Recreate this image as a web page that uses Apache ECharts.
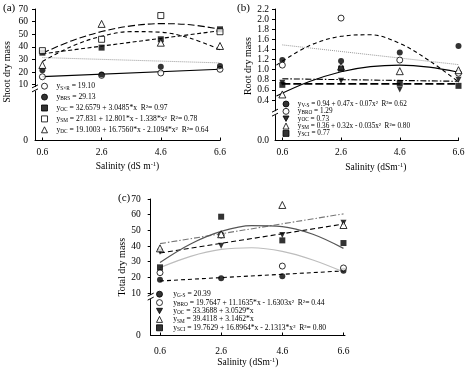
<!DOCTYPE html>
<html><head><meta charset="utf-8">
<script src="https://cdn.jsdelivr.net/npm/echarts@6/dist/echarts.min.js"></script>
<style>html,body{margin:0;padding:0;background:#fff}#c{width:474px;height:372px}</style>
</head><body><div id="c"></div>
<script>
// ---------- data ----------
const xTicks = [0.6, 2.6, 4.6, 6.6];
const xCurve = [0.6, 1.6, 2.6, 3.6, 4.6, 5.6, 6.6];
const xCurveB = [0.4, 1.5, 2.6, 3.6, 4.6, 5.6, 6.6];
const xLine = [0.6, 6.6];

// (a) Shoot dry mass
const aYTicks = [10, 20, 30, 40, 50, 60, 70];
const aOpenCircle = [16.3, 17.4, 19.3, 22.2];
const aFilledCircle = [21.4, 18.0, 24.3, 24.8];
const aFilledSquare = [35.4, 39.4, 46.0, 53.9];
const aOpenSquare = [37.0, 46.0, 64.8, 52.0];
const aTriangle = [25.6, 58.2, 43.3, 40.7];
const aSolidLine = [16.4, 22.2];
const aDottedLine = [31.5, 27.3];
const aOcLine = [34.5, 52.8];
const aSmCurve = [35.0, 44.9, 52.1, 56.6, 58.4, 57.5, 54.0];
const aDcCurve = [28.4, 40.5, 48.4, 52.1, 51.6, 46.8, 37.8];

// (b) Root dry mass
const bYTicks = [0.4, 0.6, 0.8, 1.0, 1.2, 1.4, 1.6, 1.8, 2.0, 2.2];
const bFilledCircle = [1.19, 1.17, 1.34, 1.47];
const bOpenCircle = [1.09, 2.02, 1.19, 0.93];
const bDownTri = [0.74, 0.78, 0.61, 0.80];
const bTriangle = [0.51, 1.06, 0.97, 0.99];
const bFilledSquare = [0.70, 1.02, 0.73, 0.68];
const bVsCurve = [1.09, 1.47, 1.66, 1.69, 1.52, 1.18, 0.76];
const bSmCurve = [0.48, 0.76, 0.96, 1.06, 1.09, 1.05, 0.95];
const bDottedLine = [1.49, 1.10];
const bDashDotLine = [0.82, 0.77];
const bLongDashLine = [0.72, 0.72];

// (c) Total dry mass
const cYTicks = [10, 20, 30, 40, 50, 60, 70];
const cFilledCircle = [18.5, 19.4, 20.7, 24.2];
const cOpenCircle = [23.0, 47.0, 27.2, 26.0];
const cDownTri = [36.4, 40.2, 47.0, 54.9];
const cTriangle = [38.5, 47.5, 66.2, 53.4];
const cFilledSquare = [26.4, 58.7, 43.6, 41.9];
const cGsLine = [17.7, 24.1];
const cBroCurve = [26.2, 33.4, 37.8, 38.9, 36.6, 31.1, 23.5];
const cOcLine = [35.5, 54.0];
const cSmLine = [41.5, 60.5];
const cSciCurve = [29.5, 41.3, 49.3, 53.0, 52.4, 47.5, 38.5];

// legend texts
const legendText = {
  a1: '{n|y}{s|S×R}{n| = 19.10}',
  a2: '{n|y}{s|BRS}{n| = 29.13}',
  a3: '{n|y}{s|OC}{n| = 32.6579 + 3.0485*x  R²= 0.97}',
  a4: '{n|y}{s|SM}{n| = 27.831 + 12.801*x - 1.338*x²  R²= 0.78}',
  a5: '{n|y}{s|DC}{n| = 19.1003 + 16.7560*x - 2.1094*x²  R²= 0.64}',
  b1: '{n|y}{s|V-S}{n| = 0.94 + 0.47x - 0.07x²  R²= 0.62}',
  b2: '{n|y}{s|BRO}{n| = 1.29}',
  b3: '{n|y}{s|OC}{n| = 0.73}',
  b4: '{n|y}{s|SM}{n| = 0.36 + 0.32x - 0.035x²  R²= 0.80}',
  b5: '{n|y}{s|SCI}{n| = 0.77}',
  c1: '{n|y}{s|G-S}{n| = 20.39}',
  c2: '{n|y}{s|BRO}{n| = 19.7647 + 11.1635*x - 1.6303x²  R²= 0.44}',
  c3: '{n|y}{s|OC}{n| = 33.3688 + 3.0529*x}',
  c4: '{n|y}{s|SM}{n| = 39.4118 + 3.1462*x}',
  c5: '{n|y}{s|SCI}{n| = 19.7629 + 16.8964*x - 2.1313*x²  R²= 0.80}'
};

// ---------- chart ----------
const FONT = 'Liberation Serif';
const chart = echarts.init(document.getElementById('c'));
const pts = (xs, ys) => xs.map((x, i) => [x, ys[i]]);
const OPEN = {color: '#fff', borderColor: '#000', borderWidth: 1};
const FILL = {color: '#000', borderColor: '#000', borderWidth: 0};
const DOWN = 'path://M0,0L10,0L5,9Z';

function scatter(name, gi, ys, symbol, style, size) {
  return {type: 'scatter', name, xAxisIndex: gi, yAxisIndex: gi, data: pts(xTicks, ys),
    symbol, symbolSize: size || 6, itemStyle: style, z: 5, silent: true};
}
function line(gi, xs, ys, color, type, width, smooth) {
  return {type: 'line', xAxisIndex: gi, yAxisIndex: gi, data: pts(xs, ys), symbol: 'none',
    smooth: smooth ? 0.35 : false, lineStyle: {color, type, width: width || 1}, z: 3, silent: true};
}

const gridsDef = [
  {left: 35, top: 9, width: 185, height: 131.5, xmin: 0.35, xmax: 6.6, ymin: -34.2, ymax: 70},
  {left: 275, top: 9, width: 183.5, height: 131.5, xmin: 0.35, xmax: 6.6, ymin: -0.401, ymax: 2.2},
  {left: 150.7, top: 199, width: 194.3, height: 136.5, xmin: 0.296, xmax: 6.65, ymin: -17.1, ymax: 70}
];
const yTickSets = [aYTicks, bYTicks, cYTicks];
const yDec = [0, 1, 0];
const xNames = ['{t|Salinity (dS m}{p|-1}{t|)}', '{t|Salinity (dSm}{p|-1}{t|)}', '{t|Salinity (dSm}{p|-1}{t|)}'];
const xNameGap = [20, 21, 18.5];
const xNamePad = [[0,0,0,0], [0,0,0,18], [0,0,0,0]];
const xMargin = [6.5, 6.5, 10.5];
const yNames = ['Shoot dry mass', 'Root dry mass', 'Total dry mass'];
const yNameGap = [23, 20.5, 20.5];
const yNamePad = [[0,0,0,5.5], [0,0,0,17.5], [0,0,0,0]];
const yMargin = [7, 6, 10];
const legendPrefix = [4, 3.8, 5.7];

const nameRich = {
  t: {fontFamily: FONT, fontSize: 9.5, lineHeight: 12, color: '#000'},
  p: {fontFamily: FONT, fontSize: 6.5, lineHeight: 7, verticalAlign: 'top', color: '#000'}
};

const option = {
  animation: false,
  backgroundColor: '#fff',
  title: [
    {text: '(a)', left: 3, top: 3, padding: 0, textStyle: {fontFamily: FONT, fontSize: 11, fontWeight: 'normal', color: '#000'}},
    {text: '(b)', left: 237, top: 3, padding: 0, textStyle: {fontFamily: FONT, fontSize: 11, fontWeight: 'normal', color: '#000'}},
    {text: '(c)', left: 118, top: 193, padding: 0, textStyle: {fontFamily: FONT, fontSize: 11, fontWeight: 'normal', color: '#000'}}
  ],
  grid: gridsDef.map(g => ({left: g.left, top: g.top, width: g.width, height: g.height, containLabel: false})),
  xAxis: gridsDef.map((g, i) => ({
    type: 'value', gridIndex: i, min: g.xmin, max: g.xmax,
    name: xNames[i], nameLocation: 'middle', nameGap: xNameGap[i],
    nameTextStyle: {fontFamily: FONT, fontSize: 9.5, color: '#000', padding: xNamePad[i], rich: nameRich},
    axisLine: {onZero: false, lineStyle: {color: '#000', width: 1}},
    axisTick: {customValues: xTicks, inside: true, length: 3, lineStyle: {color: '#000'}},
    axisLabel: {customValues: xTicks, margin: xMargin[i], fontFamily: FONT, fontSize: 9.5, color: '#000',
      formatter: v => Number(v).toFixed(1)},
    splitLine: {show: false}
  })),
  yAxis: gridsDef.map((g, i) => ({
    type: 'value', gridIndex: i, min: g.ymin, max: g.ymax,
    name: yNames[i], nameLocation: 'middle', nameGap: yNameGap[i],
    nameTextStyle: {fontFamily: FONT, fontSize: 10, color: '#000', padding: yNamePad[i]},
    axisLine: {onZero: false, lineStyle: {color: '#000', width: 1}},
    axisTick: {customValues: yTickSets[i], length: 3, lineStyle: {color: '#000'}},
    axisLabel: {customValues: [g.ymin].concat(yTickSets[i]), margin: yMargin[i], fontFamily: FONT, fontSize: 9.5, color: '#000',
      formatter: v => (v < 0 ? 0 : v).toFixed(yDec[i])},
    splitLine: {show: false}
  })),
  legend: [
    {data: ['a1','a2','a3','a4','a5'], orient: 'vertical', left: 41, top: 82.2, itemWidth: 6, itemHeight: 6, itemGap: 2.4, padding: 0, selectedMode: false},
    {data: ['b1','b2','b3','b4','b5'], orient: 'vertical', left: 282.5, top: 100.5, itemWidth: 6, itemHeight: 6, itemGap: 0, padding: 0, selectedMode: false},
    {data: ['c1','c2','c3','c4','c5'], orient: 'vertical', left: 156, top: 290.2, itemWidth: 6, itemHeight: 6, itemGap: 0, padding: 0, selectedMode: false}
  ].map((l, i) => Object.assign(l, {
    itemStyle: {borderWidth: 1, borderColor: '#000'},
    formatter: name => '{g| }' + legendText[name],
    textStyle: {fontFamily: FONT, fontSize: 7.6, color: '#000', rich: {
      g: {width: legendPrefix[i], fontSize: 7, lineHeight: [9, 7.7, 8.8][i]},
      n: {fontFamily: FONT, fontSize: i === 1 ? 7.2 : 7.6, lineHeight: [9, 7.7, 8.8][i], color: '#000'},
      s: {fontFamily: FONT, fontSize: 5.3, lineHeight: 5, verticalAlign: 'bottom', color: '#000'}
    }}
  })),
  series: [
    // (a) lines
    line(0, xLine, aSolidLine, '#000', 'solid', 1.1),
    line(0, xLine, aDottedLine, '#999', [1, 1], 1),
    line(0, xLine, aOcLine, '#000', [4, 2.5], 1.1),
    line(0, xCurve, aSmCurve, '#000', [7, 3], 1.1, true),
    line(0, xCurve, aDcCurve, '#000', [4, 3], 1.1, true),
    // (a) points
    scatter('a1', 0, aOpenCircle, 'circle', OPEN, 6),
    scatter('a2', 0, aFilledCircle, 'circle', FILL, 6),
    scatter('a3', 0, aFilledSquare, 'rect', FILL, 6),
    scatter('a4', 0, aOpenSquare, 'rect', OPEN, 6),
    scatter('a5', 0, aTriangle, 'triangle', OPEN, 7),
    // (b) lines
    line(1, xCurveB, bVsCurve, '#000', [4, 3], 1.1, true),
    line(1, xCurveB, bSmCurve, '#000', 'solid', 1.1, true),
    line(1, xLine, bDottedLine, '#999', [1, 1], 1),
    line(1, xLine, bDashDotLine, '#000', [6, 2, 1.5, 2], 1.1),
    line(1, xLine, bLongDashLine, '#000', [8, 3], 1.6),
    // (b) points
    scatter('b1', 1, bFilledCircle, 'circle', FILL, 6),
    scatter('b2', 1, bOpenCircle, 'circle', OPEN, 6),
    scatter('b3', 1, bDownTri, DOWN, FILL, 6),
    scatter('b4', 1, bTriangle, 'triangle', OPEN, 7),
    scatter('b5', 1, bFilledSquare, 'rect', FILL, 6),
    // (c) lines
    line(2, xLine, cGsLine, '#000', [4, 3], 1.1),
    line(2, xCurve, cBroCurve, '#bdbdbd', 'solid', 1.2, true),
    line(2, xLine, cOcLine, '#000', [5, 3], 1.1),
    line(2, xLine, cSmLine, '#777', [6, 2, 1.5, 2], 1.1),
    line(2, xCurve, cSciCurve, '#555', 'solid', 1.2, true),
    // (c) points
    scatter('c1', 2, cFilledCircle, 'circle', FILL, 6),
    scatter('c2', 2, cOpenCircle, 'circle', OPEN, 6),
    scatter('c3', 2, cDownTri, DOWN, FILL, 6),
    scatter('c4', 2, cTriangle, 'triangle', OPEN, 7),
    scatter('c5', 2, cFilledSquare, 'rect', FILL, 6)
  ]
};
chart.setOption(option);

// axis-break marks on the y axes
const breakVals = [6.7, 0.14, 7.4];
const g = [];
breakVals.forEach((v, i) => {
  const p = chart.convertToPixel({gridIndex: i}, [gridsDef[i].xmin, v]);
  const x = p[0], y = p[1];
  g.push({type: 'rect', z: 100, shape: {x: x - 2, y: y - 2, width: 4, height: 4}, style: {fill: '#fff'}});
  g.push({type: 'line', z: 101, shape: {x1: x - 3, y1: y - 1, x2: x + 3, y2: y - 4}, style: {stroke: '#000', lineWidth: 1}});
  g.push({type: 'line', z: 101, shape: {x1: x - 3, y1: y + 3, x2: x + 3, y2: y}, style: {stroke: '#000', lineWidth: 1}});
});
chart.setOption({graphic: g});
</script>
</body></html>
